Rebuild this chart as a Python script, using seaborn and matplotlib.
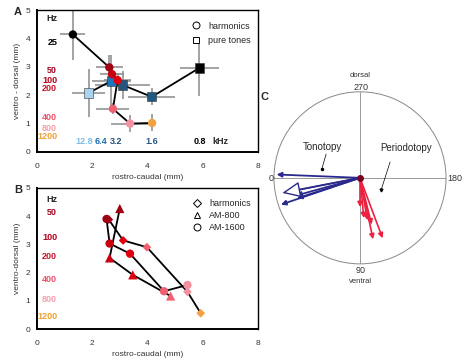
import numpy as np
import pandas as pd
import matplotlib
matplotlib.use("Agg")
import matplotlib.pyplot as plt
import seaborn as sns
from matplotlib.lines import Line2D

# Panel A: harmonics (circles) and pure tones (squares)
harm_hz = ['25', '50', '100', '200', '400', '800', '1200']
harm_x = [1.30, 2.62, 2.72, 2.92, 2.75, 3.37, 4.17]
harm_y = [4.14, 2.98, 2.74, 2.53, 1.52, 1.00, 1.02]
harm_xerr = [0.45, 0.5, 0.45, 0.5, 0.6, 0.7, 0.1]
harm_yerr = [0.9, 0.45, 0.3, 0.25, 0.2, 0.3, 0.3]

tone_khz = ['12.8', '6.4', '3.2', '1.6', '0.8']
tone_x = [1.87, 2.69, 3.10, 4.16, 5.88]
tone_y = [2.08, 2.50, 2.36, 1.94, 2.96]
tone_xerr = [0.6, 0.7, 1.0, 0.85, 0.7]
tone_yerr = [0.85, 0.9, 0.5, 0.3, 1.0]

# Panel B: harmonics (diamonds), AM-800 (triangles), AM-1600 (circles)
bh_hz = ['50', '200', '400', '800', '1200']
bh_x = [2.60, 3.12, 3.98, 5.45, 5.93]
bh_y = [3.88, 3.14, 2.90, 1.32, 0.56]

am8_hz = ['50', '100', '200', '400']
am8_x = [3.00, 2.63, 3.47, 4.84]
am8_y = [4.27, 2.52, 1.92, 1.17]

am16_hz = ['50', '100', '200', '400', '800']
am16_x = [2.52, 2.63, 3.37, 4.60, 5.45]
am16_y = [3.90, 3.03, 2.67, 1.34, 1.56]

# Panel C: vector angles (deg) and lengths (fraction of radius)
blue_theta = [357.7, 11.0, 15.5, 18.7, 18.0]
blue_r = [0.97, 0.81, 0.77, 0.97, 0.77]
hollow_theta = [11.0]
hollow_r = [0.92]
red_theta = [90.0, 95.5, 100.0, 104.0, 102.0, 110.5]
red_r = [0.34, 0.47, 0.50, 0.56, 0.73, 0.75]

hz_labels = ['25', '50', '100', '200', '400', '800', '1200']
hz_label_y_a = [3.85, 2.86, 2.53, 2.23, 1.22, 0.82, 0.54]
hz_label_y_b = [4.12, 3.24, 2.56, 1.74, 1.06, 0.44]
khz_label_x = [1.70, 2.30, 2.88, 4.16, 5.9]

hz_text = {'25': '#000000', '50': '#a0001c', '100': '#b8001a', '200': '#c81428',
           '400': '#f0506a', '800': '#f4a0aa', '1200': '#f0a030'}
hz_mark = {'25': '#000000', '50': '#a00014', '100': '#c80010', '200': '#e00010',
           '400': '#f06070', '800': '#f490a0', '1200': '#f5a040'}
khz_col = {'12.8': '#a8d4f2', '6.4': '#1a78c0', '3.2': '#25557f', '1.6': '#1f5a82', '0.8': '#000000'}
khz_text = {'12.8': '#7fbfea', '6.4': '#1a6ab0', '3.2': '#244c78', '1.6': '#2a5a84', '0.8': '#000000'}

sns.set_theme(style="white")
plt.rcParams['font.family'] = ['Liberation Sans', 'DejaVu Sans']

fig = plt.figure(figsize=(4.74, 3.6), dpi=100)
axA = fig.add_axes([0.078, 0.578, 0.466, 0.394])
axB = fig.add_axes([0.078, 0.086, 0.466, 0.392])
axC = fig.add_axes([0.578, 0.267, 0.363, 0.478], projection='polar')

grey = '#8a8a8a'


def style_box(ax, ylabel):
    ax.set_xlim(0, 8)
    ax.set_ylim(0, 5)
    ax.set_xticks([0, 2, 4, 6, 8])
    ax.set_yticks([0, 1, 2, 3, 4, 5])
    ax.tick_params(labelsize=6, colors='#333333', length=2, width=0.6, pad=3)
    ax.tick_params(axis='x', length=0, pad=8)
    for s in ax.spines.values():
        s.set_color('black')
        s.set_linewidth(1.0)
    ax.spines['left'].set_linewidth(1.4)
    ax.spines['bottom'].set_linewidth(1.4)
    ax.set_xlabel('rostro-caudal (mm)', fontsize=6, color='#333333', labelpad=3)
    ax.set_ylabel(ylabel, fontsize=6, color='#333333', labelpad=3)


# ---- Panel A
dfh = pd.DataFrame({'x': harm_x, 'y': harm_y, 'hz': harm_hz})
dft = pd.DataFrame({'x': tone_x, 'y': tone_y, 'khz': tone_khz})
axA.errorbar(harm_x, harm_y, xerr=harm_xerr, yerr=harm_yerr, fmt='none',
             ecolor=grey, elinewidth=1.1, zorder=1)
axA.errorbar(tone_x, tone_y, xerr=tone_xerr, yerr=tone_yerr, fmt='none',
             ecolor=grey, elinewidth=1.1, zorder=1)
sns.lineplot(data=dft, x='x', y='y', sort=False, color='black', lw=1.3, ax=axA, zorder=2)
sns.lineplot(data=dfh, x='x', y='y', sort=False, color='black', lw=1.3, ax=axA, zorder=2)
sns.scatterplot(data=dft, x='x', y='y', hue='khz', palette=khz_col, marker='s', s=44,
                edgecolor='#333333', linewidth=0.4, legend=False, ax=axA, zorder=3)
sns.scatterplot(data=dfh, x='x', y='y', hue='hz', palette=hz_mark, marker='o', s=36,
                edgecolor='none', legend=False, ax=axA, zorder=4)
style_box(axA, 'ventro - dorsal (mm)')

axA.text(0.73, 4.7, 'Hz', ha='right', va='center', fontsize=6.5, fontweight='bold')
for lab, yy in zip(hz_labels, hz_label_y_a):
    axA.text(0.73, yy, lab, ha='right', va='center', fontsize=6.5,
             fontweight='bold', color=hz_text[lab])
for lab, xx in zip(tone_khz, khz_label_x):
    axA.text(xx, 0.36, lab, ha='center', va='center', fontsize=6.5,
             fontweight='bold', color=khz_text[lab])
axA.text(6.64, 0.36, 'kHz', ha='center', va='center', fontsize=6.5, fontweight='bold')

hA = [Line2D([], [], marker='o', ls='none', mfc='white', mec='black', ms=5, mew=0.7),
      Line2D([], [], marker='s', ls='none', mfc='white', mec='black', ms=5, mew=0.7)]
axA.legend(hA, ['harmonics', 'pure tones'], loc='upper right', frameon=False,
           fontsize=6.5, handletextpad=0.3, borderaxespad=0.4, labelspacing=0.6,
           bbox_to_anchor=(1.0, 0.97))

# ---- Panel B
dfb1 = pd.DataFrame({'x': bh_x, 'y': bh_y, 'hz': bh_hz})
dfb2 = pd.DataFrame({'x': am8_x, 'y': am8_y, 'hz': am8_hz})
dfb3 = pd.DataFrame({'x': am16_x, 'y': am16_y, 'hz': am16_hz})
for d in (dfb1, dfb2, dfb3):
    sns.lineplot(data=d, x='x', y='y', sort=False, color='black', lw=1.3, ax=axB, zorder=2)
sns.scatterplot(data=dfb1, x='x', y='y', hue='hz', palette=hz_mark, marker='D', s=20,
                edgecolor='none', legend=False, ax=axB, zorder=3)
sns.scatterplot(data=dfb2, x='x', y='y', hue='hz', palette=hz_mark, marker='^', s=44,
                edgecolor='none', legend=False, ax=axB, zorder=3)
sns.scatterplot(data=dfb3, x='x', y='y', hue='hz', palette=hz_mark, marker='o', s=36,
                edgecolor='none', legend=False, ax=axB, zorder=4)
style_box(axB, 'ventro-dorsal (mm)')

axB.text(0.73, 4.6, 'Hz', ha='right', va='center', fontsize=6.5, fontweight='bold')
for lab, yy in zip(hz_labels[1:], hz_label_y_b):
    axB.text(0.73, yy, lab, ha='right', va='center', fontsize=6.5,
             fontweight='bold', color=hz_text[lab])

hB = [Line2D([], [], marker='D', ls='none', mfc='white', mec='black', ms=4, mew=0.7),
      Line2D([], [], marker='^', ls='none', mfc='white', mec='black', ms=5, mew=0.7),
      Line2D([], [], marker='o', ls='none', mfc='white', mec='black', ms=5, mew=0.7)]
axB.legend(hB, ['harmonics', 'AM-800', 'AM-1600'], loc='upper right', frameon=False,
           fontsize=6.5, handletextpad=0.3, borderaxespad=0.4, labelspacing=0.3,
           bbox_to_anchor=(1.0, 0.97))

# ---- Panel C
axC.set_theta_zero_location('W')
axC.set_theta_direction(1)
axC.set_ylim(0, 1)
axC.set_yticks([])
axC.set_thetagrids([0, 90, 180, 270], labels=['', '', '', ''])
axC.grid(True, color='#999999', lw=0.7)
axC.spines['polar'].set_color('#888888')
axC.spines['polar'].set_linewidth(0.7)
axC.set_facecolor('white')

navy = '#2a2a8c'
red = '#ee2040'
for t, r in zip(blue_theta, blue_r):
    axC.annotate('', xy=(np.deg2rad(t), r), xytext=(0, 0),
                 arrowprops=dict(arrowstyle='-|>', color=navy, lw=1.3, mutation_scale=7,
                                 shrinkA=0, shrinkB=0))
for t, r in zip(hollow_theta, hollow_r):
    axC.annotate('', xy=(np.deg2rad(t), r), xytext=(0, 0),
                 arrowprops=dict(arrowstyle='-|>,head_length=1.6,head_width=0.7',
                                 fc='white', ec=navy, lw=1.0, mutation_scale=7,
                                 shrinkA=0, shrinkB=0))
for t, r in zip(red_theta, red_r):
    axC.annotate('', xy=(np.deg2rad(t), r), xytext=(0, 0),
                 arrowprops=dict(arrowstyle='-|>', color=red, lw=1.2, mutation_scale=7,
                                 shrinkA=0, shrinkB=0))
axC.plot([0], [0], 'o', color='#7a0020', ms=4, zorder=5)

# angle labels (figure fraction)
fig.text(0.577, 0.505, '0', ha='right', va='center', fontsize=6.5, color='#333333')
fig.text(0.943, 0.505, '180', ha='left', va='center', fontsize=6.5, color='#333333')
fig.text(0.761, 0.758, '270', ha='center', va='center', fontsize=6.5, color='#333333')
fig.text(0.761, 0.248, '90', ha='center', va='center', fontsize=6.5, color='#333333')
fig.text(0.759, 0.790, 'dorsal', ha='center', va='center', fontsize=5.5, color='#333333')
fig.text(0.761, 0.219, 'ventral', ha='center', va='center', fontsize=5.5, color='#333333')

fig.text(0.681, 0.592, 'Tonotopy', ha='center', va='center', fontsize=7)
fig.text(0.856, 0.589, 'Periodotopy', ha='center', va='center', fontsize=7)
fig.add_artist(plt.Line2D([0.688, 0.679], [0.572, 0.531], transform=fig.transFigure,
                          color='black', lw=0.5))
fig.add_artist(plt.Line2D([0.679], [0.531], transform=fig.transFigure,
                          marker='o', ms=1.5, color='black'))
fig.add_artist(plt.Line2D([0.823, 0.804], [0.55, 0.472], transform=fig.transFigure,
                          color='black', lw=0.5))
fig.add_artist(plt.Line2D([0.804], [0.472], transform=fig.transFigure,
                          marker='v', ms=2, color='black'))

fig.text(0.038, 0.966, 'A', ha='center', va='center', fontsize=8, fontweight='bold')
fig.text(0.038, 0.473, 'B', ha='center', va='center', fontsize=8, fontweight='bold')
fig.text(0.559, 0.731, 'C', ha='center', va='center', fontsize=8, fontweight='bold')

fig.savefig('out.png', dpi=100, facecolor='white')
